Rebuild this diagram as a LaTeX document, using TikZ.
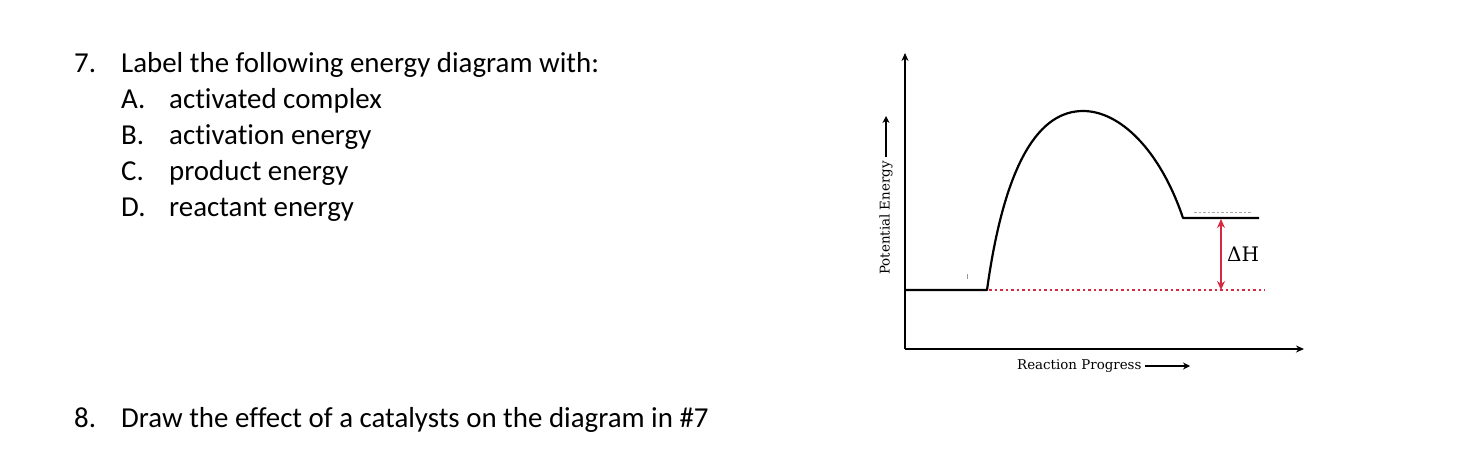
\documentclass[tikz,border=0pt]{standalone}
\usepackage{fontspec}
\setmainfont{Carlito}[Ligatures={NoCommon}]
\newfontfamily\slab{DejaVu Serif}
\usetikzlibrary{arrows.meta}
\definecolor{dhred}{RGB}{214,40,64}
\tikzset{
  qtext/.style={anchor=base west, inner sep=0pt, font=\fontsize{28.9}{32}\selectfont},
  axis/.style={line width=2.2pt, -{Stealth[length=8pt,width=7pt]}},
  curve/.style={line width=2.2pt, line join=round},
  lbl/.style={inner sep=0pt, font=\slab\fontsize{13.4}{15}\selectfont},
  smallarrow/.style={line width=1.4pt, -{Stealth[length=7pt,width=7pt]}},
}
\begin{document}
\begin{tikzpicture}[x=1pt,y=-1pt]
\useasboundingbox (0,0) rectangle (1470,466);
% question text
\node[qtext] (n7) at (74,72) {7.};
\node[qtext] (q7) at (121,72) {Label the following energy diagram with:};
\node[qtext] (la) at (121,108) {A.};
\node[qtext] (ta) at (169,108) {activated complex};
\node[qtext] (lb) at (121,144) {B.};
\node[qtext] (tb) at (169,144) {activation energy};
\node[qtext] (lc) at (121,180) {C.};
\node[qtext] (tc) at (169,180) {product energy};
\node[qtext] (ld) at (121,216) {D.};
\node[qtext] (td) at (169,216) {reactant energy};
\node[qtext] (n8) at (74,427) {8.};
\node[qtext] (q8) at (121,427) {Draw the effect of a catalysts on the diagram in \#7};
% axes
\coordinate (O) at (905,349);
\coordinate (ytop) at (905,53);
\coordinate (xend) at (1304,349);
\draw[axis] (O) -- (ytop);
\draw[axis] (O) -- (xend);
% energy curve
\coordinate (r0) at (905,290);
\coordinate (r1) at (987,290);
\coordinate (pk) at (1083,111);
\coordinate (p0) at (1183,218);
\coordinate (p1) at (1259,218);
\draw[curve] (r0) -- (r1) .. controls (1005,160) and (1040,111) .. (pk)
  .. controls (1120,111) and (1160,150) .. (p0) -- (p1);
% faint dashed line above product
\coordinate (d0) at (1194,212);
\coordinate (d1) at (1252,212);
\draw[gray!70, line width=0.6pt, dash pattern=on 2.5pt off 2pt] (d0) -- (d1);
% red dotted reactant level
\coordinate (rd0) at (989,290);
\coordinate (rd1) at (1265,290);
\draw[dhred, line width=1.8pt, dash pattern=on 2.5pt off 3pt] (rd0) -- (rd1);
% delta H arrow
\coordinate (h0) at (1221,219);
\coordinate (h1) at (1221,290);
\draw[dhred, line width=1.4pt, {Stealth[length=9pt,width=8pt]}-{Stealth[length=9pt,width=8pt]}] (h0) -- (h1);
\node[anchor=west, inner sep=0pt, font=\slab\fontsize{20}{24}\selectfont] (dH) at (1227,254) {ΔH};
% tiny tick
\coordinate (t0) at (967,274);
\coordinate (t1) at (967,279);
\draw[gray!80, line width=0.8pt] (t0) -- (t1);
% axis labels
\node[lbl, rotate=90, anchor=west] (pe) at (886,275) {Potential Energy};
\coordinate (pea) at (886,157);
\coordinate (peb) at (886,116);
\draw[smallarrow] (pea) -- (peb);
\node[lbl, anchor=west] (rp) at (1017,366) {Reaction Progress};
\coordinate (rpa) at (1145,366);
\coordinate (rpb) at (1190,366);
\draw[smallarrow] (rpa) -- (rpb);
\end{tikzpicture}
\end{document}
